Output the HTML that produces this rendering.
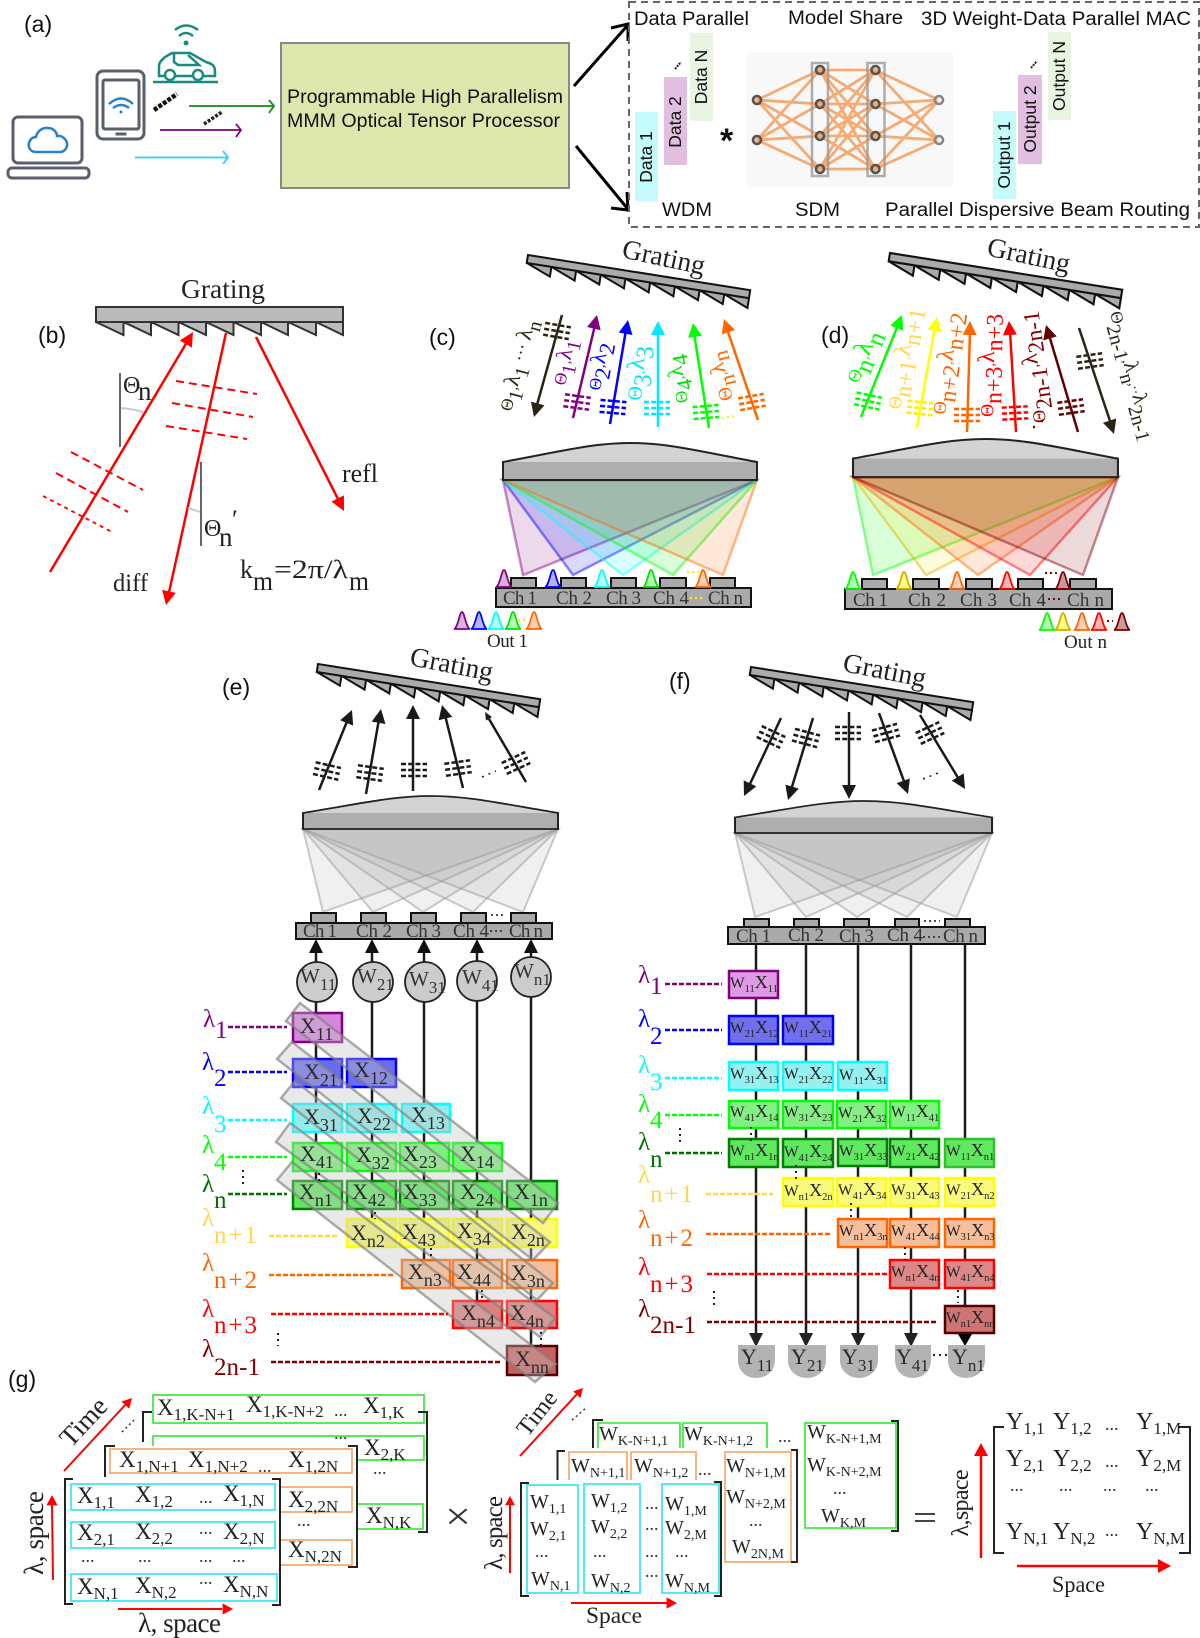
<!DOCTYPE html>
<html><head><meta charset="utf-8"><title>Optical Tensor Processor</title>
<style>
html,body{margin:0;padding:0;background:#fff}
svg{display:block}
text{font-family:"Liberation Serif","DejaVu Serif",serif;fill:#222}
.a{font-family:"Liberation Sans",sans-serif;fill:#111}
.p{font-size:23px}
.g{font-size:27px}
.gg{font-size:27.5px}
.c{font-size:19px;fill:#333}
.x{font-size:22px;fill:#2a2a2a}
.u{font-size:18px}
.wc{font-size:21px;fill:#333}
.wu{font-size:17px}
.w{font-size:15.5px;fill:#222}
.v{font-size:10.5px}
.z{font-size:18px}
.m{font-size:23px;fill:#222}
.n{font-size:17px}
.q{font-size:20px;fill:#222}
.r{font-size:14px}
.l{font-size:25px}
.y{font-size:24px;fill:#222}
.t{font-size:18px;fill:#333}
.b{fill:#c4c4c4;fill-opacity:.38;stroke:#808080;stroke-opacity:.65;stroke-width:2.5}
</style></head><body>
<svg width="1200" height="1638" viewBox="0 0 1200 1638" xmlns="http://www.w3.org/2000/svg">
<defs>
<g id="gr" stroke="#111" stroke-width="2" fill="#aaa">
<path d="M0,8 L25,18 V8Z M25,8 L50,18 V8Z M50,8 L75,18 V8Z M75,8 L100,18 V8Z M100,8 L125,18 V8Z M125,8 L150,18 V8Z M150,8 L175,18 V8Z M175,8 L200,18 V8Z M200,8 L225,18 V8Z"/>
<rect x="0" y="0" width="225" height="8"/>
</g>
<g id="lens">
<path d="M0,19 C60,8 90,0 127,0 C165,0 195,8 254,19 V37 H0Z" fill="#d3d3d3"/>
<rect x="0" y="19" width="254" height="18" fill="#aeaeae"/>
<path d="M0,37 V19 C60,8 90,0 127,0 C165,0 195,8 254,19 V37 Z" fill="none" stroke="#222" stroke-width="2"/>
</g>
<g id="h" fill="none" stroke-width="2.5" stroke-dasharray="5 2.2">
<path d="M-13,-6 H13 M-13,0 H13 M-13,6 H13"/>
</g>
<path id="ah" d="M0,0 L-7,14 L7,14Z"/>
<path id="ahb" d="M0,0 L-7,13 L7,13Z"/>
<path id="ahs" d="M0,0 L-3.5,8 L3.5,8Z"/>
<path id="pu" d="M-8,0 C-4,-1 -2.5,-17 0,-17 C2.5,-17 4,-1 8,0Z" stroke-width="1.7"/>
</defs>

<!-- (a) -->
<text class="a p" x="24" y="32">(a)</text>
<g fill="none" stroke="#5a5f6b" stroke-width="3">
<rect x="13" y="117" width="69" height="46" rx="5"/>
<rect x="8" y="168" width="81" height="10" rx="4"/>
<rect x="97" y="71" width="47" height="68" rx="6"/>
<rect x="103" y="80" width="36" height="49" rx="2"/>
<rect x="116" y="133" width="10" height="2" fill="#5a5f6b" stroke-width="1"/>
</g>
<g fill="none" stroke="#2a7fc9" stroke-width="2.5">
<path d="M36,152 C30,152 28,147 29,143 C30,139 33,137 36,137 C37,131 43,127 48,128 C54,128 57,133 57,136 C62,135 68,140 67,146 C66,150 63,152 60,152Z"/>
<path d="M109,104 Q121,93 133,104 M113,108 Q121,102 129,108"/>
</g>
<circle cx="121" cy="112" r="1.5" fill="#2a7fc9"/>
<g fill="none" stroke="#1a8a80" stroke-width="2.5">
<path d="M165,76 H159 V66 C159,62 162,60 165,57 L172,53 H190 L206,62 C213,64 215,66 215,72 V76 H204 M175,76 H192"/>
<path d="M174,54 V62 L178,65 H199 L188,55"/>
<circle cx="170" cy="75" r="5"/><circle cx="198" cy="75" r="5"/>
<path d="M153,82 H218"/>
<path d="M175,30 Q186,21 198,30 M179,36 Q186,30 193,36"/>
</g>
<circle cx="186" cy="43" r="2.5" fill="#1a8a80"/>
<path d="M154,110 L177,94" stroke="#111" stroke-width="4.5" stroke-dasharray="4 1.5" fill="none"/>
<path d="M204,124 L222,112" stroke="#222" stroke-width="3.5" stroke-dasharray="3 1.5" fill="none"/>
<g fill="none" stroke-width="1.8">
<path d="M189,106 H274 M269,100 L274,106 L269,113" stroke="#158a15"/>
<path d="M160,130 H241 M236,124 L241,130 L236,137" stroke="#800080"/>
<path d="M135,157.5 H228 M223,151 L228,157.5 L223,164" stroke="#2fd0f5"/>
</g>
<rect x="281" y="43" width="288" height="145" fill="#dce6ad" stroke="#888" stroke-width="2"/>
<text class="a" x="287" y="103" font-size="19" textLength="276" lengthAdjust="spacingAndGlyphs">Programmable High Parallelism</text>
<text class="a" x="287" y="127" font-size="19" textLength="273" lengthAdjust="spacingAndGlyphs">MMM Optical Tensor Processor</text>
<g fill="none" stroke="#000" stroke-width="3">
<path d="M574,86 L627,26 M611,28 L628,24 L628,41"/>
<path d="M576,146 L627,208 M627,192 L628,210 L611,208"/>
</g>
<rect x="629" y="2" width="570" height="225" fill="none" stroke="#666" stroke-width="2" stroke-dasharray="7 5"/>
<text class="a" x="634" y="25" font-size="19" textLength="115" lengthAdjust="spacingAndGlyphs">Data Parallel</text>
<text class="a" x="788" y="24" font-size="19" textLength="115" lengthAdjust="spacingAndGlyphs">Model Share</text>
<text class="a" x="921" y="25" font-size="19" textLength="270" lengthAdjust="spacingAndGlyphs">3D Weight-Data Parallel MAC</text>
<text class="a" x="662" y="216" font-size="19" textLength="50" lengthAdjust="spacingAndGlyphs">WDM</text>
<text class="a" x="795" y="216" font-size="19" textLength="45" lengthAdjust="spacingAndGlyphs">SDM</text>
<text class="a" x="885" y="216" font-size="19" textLength="305" lengthAdjust="spacingAndGlyphs">Parallel Dispersive Beam Routing</text>
<rect x="635" y="112" width="23" height="89" fill="#c5fbfb"/>
<rect x="664" y="77" width="23" height="88" fill="#e0bfe0"/>
<rect x="690" y="33" width="23" height="88" fill="#e8f5e0"/>
<rect x="993" y="111" width="23" height="88" fill="#c5fbfb"/>
<rect x="1018" y="75" width="24" height="89" fill="#e0bfe0"/>
<rect x="1048" y="32" width="23" height="88" fill="#e8f5e0"/>
<g font-size="17.5">
<text class="a" text-anchor="middle" transform="translate(652,157) rotate(-90)">Data 1</text>
<text class="a" text-anchor="middle" transform="translate(681,122) rotate(-90)">Data 2</text>
<text class="a" text-anchor="middle" transform="translate(707,77) rotate(-90)">Data N</text>
<text class="a" text-anchor="middle" transform="translate(1010,155) rotate(-90)">Output 1</text>
<text class="a" text-anchor="middle" transform="translate(1036,119) rotate(-90)">Output 2</text>
<text class="a" text-anchor="middle" transform="translate(1065,76) rotate(-90)">Output N</text>
</g>
<path d="M675,69 L681,62 M1031,68 L1037,61" stroke="#222" stroke-width="2" stroke-dasharray="2 1" fill="none"/>
<text class="a" x="720" y="152" font-size="34" font-weight="bold">*</text>
<rect x="747" y="52" width="206" height="135" fill="#f8f8f8"/>
<path fill="none" stroke="#f59d5c" stroke-opacity=".85" stroke-width="2.8" d="M757,100 L820,70 M757,100 L820,104 M757,100 L820,136 M757,100 L820,169 M757,140 L820,70 M757,140 L820,104 M757,140 L820,136 M757,140 L820,169 M820,70 L875,70 M820,70 L875,104 M820,70 L875,136 M820,70 L875,169 M820,104 L875,70 M820,104 L875,104 M820,104 L875,136 M820,104 L875,169 M820,136 L875,70 M820,136 L875,104 M820,136 L875,136 M820,136 L875,169 M820,169 L875,70 M820,169 L875,104 M820,169 L875,136 M820,169 L875,169 M875,70 L939,100 M875,104 L939,100 M875,136 L939,100 M875,169 L939,100 M875,70 L939,140 M875,104 L939,140 M875,136 L939,140 M875,169 L939,140"/>
<g fill="none" stroke="#999" stroke-width="2.5" stroke-opacity=".8"><rect x="812" y="63" width="16" height="113"/><rect x="867.5" y="63" width="17" height="113"/></g>
<g fill="#f8a060" fill-opacity=".6" stroke="#555" stroke-width="2.6">
<circle cx="757" cy="100" r="4"/><circle cx="757" cy="140" r="4"/>
<circle cx="820" cy="70" r="4"/><circle cx="820" cy="104" r="4"/><circle cx="820" cy="136" r="4"/><circle cx="820" cy="169" r="4"/>
<circle cx="875.5" cy="70" r="4"/><circle cx="875.5" cy="104" r="4"/><circle cx="875.5" cy="136" r="4"/><circle cx="875.5" cy="169" r="4"/>
<circle cx="939" cy="100" r="4" stroke="#888" fill="#fff"/><circle cx="939" cy="140" r="4" stroke="#888" fill="#fff"/>
</g>

<!-- (b) -->
<text class="a p" x="38" y="343">(b)</text>
<text x="181" y="298" class="g" textLength="84" lengthAdjust="spacingAndGlyphs">Grating</text>
<g stroke="#333" stroke-width="2" fill="#bbb">
<path d="M96,322 L123.5,335 V322Z M123.5,322 L151,335 V322Z M151,322 L178.5,335 V322Z M178.5,322 L206,335 V322Z M206,322 L233.5,335 V322Z M233.5,322 L261,335 V322Z M261,322 L288,335 V322Z M288,322 L316,335 V322Z M316,322 L343,335 V322Z"/>
<rect x="96" y="307" width="247" height="15"/>
</g>
<g stroke="#f00" fill="none" stroke-width="2.5">
<path d="M50,572 L190,337 M226,333 L168,597 M256,337 L340,503"/>
<path stroke-width="2" stroke-dasharray="8 5" d="M176,381 L257,394 M172,403 L253,417 M166,426 L247,439 M71,452 L143,490 M56,473 L128,512"/>
<path stroke-width="1.8" stroke-dasharray="4 4" d="M43,496 L114,533"/>
</g>
<g fill="#f00">
<use href="#ah" transform="translate(193,332) rotate(30.8)"/>
<use href="#ah" transform="translate(166,605) rotate(192.4)"/>
<use href="#ah" transform="translate(344,511) rotate(153.2)"/>
</g>
<path d="M120,373 V447 M201,462 V546" stroke="#666" stroke-width="2" fill="none"/>
<path d="M121,408 Q133,409 143,412 M188,508 Q194,510 200,512" stroke="#ccc" stroke-width="2" fill="none"/>
<text x="123" y="393" font-size="24">Θ</text><text x="138" y="400" font-size="27">n</text>
<text x="204" y="536" font-size="24">Θ</text><text x="219" y="546" font-size="27">n</text><text x="232" y="528" font-size="26">′</text>
<text x="342" y="482" font-size="26" textLength="36" lengthAdjust="spacingAndGlyphs">refl</text>
<text x="113" y="591" font-size="25" textLength="35" lengthAdjust="spacingAndGlyphs">diff</text>
<text x="240" y="578" font-size="26">k</text><text x="253" y="590" font-size="27" textLength="20" lengthAdjust="spacingAndGlyphs">m</text>
<text x="274" y="578" font-size="26" textLength="74" lengthAdjust="spacingAndGlyphs">=2π/λ</text><text x="349" y="590" font-size="27" textLength="20" lengthAdjust="spacingAndGlyphs">m</text>

<!-- (c) -->
<text class="a p" x="429" y="345">(c)</text>
<use href="#gr" transform="translate(528,255) rotate(9)"/>
<text class="gg" text-anchor="middle" transform="translate(662,266) rotate(12)">Grating</text>
<g fill="none" stroke-width="2.5">
<path d="M562,315 L537,405" stroke="#2a2510"/>
<path d="M573,418 L595,325" stroke="#800080"/>
<path d="M610,424 L626,330" stroke="#0000ff"/>
<path d="M658,427 V330" stroke="#00e8ff"/>
<path d="M709,428 L694,333" stroke="#00ff00"/>
<path d="M758,420 L727,329" stroke="#ff6600"/>
</g>
<use href="#ah" fill="#2a2510" transform="translate(534,417) rotate(195.4)"/>
<use href="#ah" fill="#800080" transform="translate(597,315) rotate(13.1)"/>
<use href="#ah" fill="#0000ff" transform="translate(628,320) rotate(9.8)"/>
<use href="#ah" fill="#00e8ff" transform="translate(658,321)"/>
<use href="#ah" fill="#00ff00" transform="translate(693,323) rotate(-8.7)"/>
<use href="#ah" fill="#ff6600" transform="translate(724,319) rotate(-18.6)"/>
<use href="#h" stroke="#2a2510" transform="translate(557,331) rotate(10)"/>
<use href="#h" stroke="#800080" transform="translate(577,402) rotate(8)"/>
<use href="#h" stroke="#0000ff" transform="translate(613,407) rotate(5)"/>
<use href="#h" stroke="#00e8ff" transform="translate(657,408)"/>
<use href="#h" stroke="#00ff00" transform="translate(706,412) rotate(-5)"/>
<use href="#h" stroke="#ff6600" transform="translate(752,402) rotate(-10)"/>
<path d="M722,418 L735,416" stroke="#ffee00" stroke-width="2" stroke-dasharray="2 3" fill="none"/>
<g font-size="17">
<text style="fill:#2a2510" transform="translate(511,412) rotate(-75)">Θ<tspan dy="7" font-size="20">1</tspan><tspan dy="-7" font-size="14">,</tspan><tspan font-size="22">λ</tspan><tspan dy="7" font-size="20">1</tspan><tspan dy="-7" font-size="18"> ··· </tspan><tspan font-size="22">λ</tspan><tspan dy="7" font-size="20">n</tspan></text>
<text style="fill:#800080" transform="translate(565,386) rotate(-78)">Θ<tspan dy="7" font-size="20">1</tspan><tspan dy="-7" font-size="14">,</tspan><tspan font-size="22">λ</tspan><tspan dy="7" font-size="20">1</tspan></text>
<text style="fill:#0000ff" transform="translate(600,391) rotate(-80)">Θ<tspan dy="7" font-size="22">2</tspan><tspan dy="-7" font-size="14">,</tspan><tspan font-size="22">λ</tspan><tspan dy="7" font-size="22">2</tspan></text>
<text style="fill:#00e8ff" font-size="20" transform="translate(641,401) rotate(-85)">Θ<tspan dy="8" font-size="25">3</tspan><tspan dy="-8" font-size="14">,</tspan><tspan font-size="25">λ</tspan><tspan dy="8" font-size="25">3</tspan></text>
<text style="fill:#00e000" transform="translate(688,402) rotate(-100)">Θ<tspan dy="7" font-size="22">4</tspan><tspan dy="-7" font-size="14">,</tspan><tspan font-size="22">λ</tspan><tspan dy="7" font-size="22">4</tspan></text>
<text style="fill:#ff6600" font-size="19" transform="translate(733,399) rotate(-105)">Θ<tspan dy="7" font-size="22">n</tspan><tspan dy="-7" font-size="14">,</tspan><tspan font-size="22">λ</tspan><tspan dy="7" font-size="22">n</tspan></text>
</g>
<g stroke-width="2.5" stroke-opacity=".45" fill-opacity=".15">
<path d="M503,480 L757,480 L523,575Z" fill="#800080" stroke="#800080"/>
<path d="M503,480 L757,480 L573,575Z" fill="#0000ff" stroke="#0000ff"/>
<path d="M503,480 L757,480 L623,575Z" fill="#00ffff" stroke="#00ffff"/>
<path d="M503,480 L757,480 L673,575Z" fill="#00ff00" stroke="#00ff00"/>
<path d="M503,480 L757,480 L723,575Z" fill="#ff6600" stroke="#ff6600"/>
</g>
<use href="#lens" transform="translate(503,443)"/>
<g fill="#aaa" stroke="#111" stroke-width="2">
<rect x="511" y="578" width="25" height="10"/><rect x="561" y="578" width="25" height="10"/><rect x="611" y="578" width="25" height="10"/><rect x="660" y="578" width="26" height="10"/><rect x="710" y="578" width="25" height="10"/>
<rect x="496" y="588" width="255" height="19"/>
</g>
<text class="c" x="503" y="604" textLength="34">Ch 1</text><text class="c" x="556" y="604" textLength="36">Ch 2</text><text class="c" x="606" y="604" textLength="35">Ch 3</text><text class="c" x="653" y="604" textLength="36">Ch 4</text><text class="c" x="708" y="604" textLength="35">Ch n</text>
<path d="M690,598 H705 M687,572 H703" stroke="#ffee00" stroke-width="2" stroke-dasharray="2 3" fill="none"/>
<g fill-opacity=".3">
<use href="#pu" fill="#800080" stroke="#800080" transform="translate(504,587)"/>
<use href="#pu" fill="#0000ff" stroke="#0000ff" transform="translate(553,587)"/>
<use href="#pu" fill="#00ffff" stroke="#00ffff" transform="translate(602,587)"/>
<use href="#pu" fill="#00ff00" stroke="#00e000" transform="translate(651,587)"/>
<use href="#pu" fill="#ff6600" stroke="#ff6600" transform="translate(703,587)"/>
<use href="#pu" fill="#800080" stroke="#800080" transform="translate(462,629)"/>
<use href="#pu" fill="#0000ff" stroke="#0000ff" transform="translate(479,629)"/>
<use href="#pu" fill="#00ffff" stroke="#00ffff" transform="translate(496,629)"/>
<use href="#pu" fill="#00ff00" stroke="#00e000" transform="translate(513,629)"/>
<use href="#pu" fill="#ff6600" stroke="#ff6600" transform="translate(534,629)"/>
</g>
<path d="M518,620 H527" stroke="#ffee00" stroke-width="2" stroke-dasharray="2 3" fill="none"/>
<text x="487" y="647" font-size="19" textLength="41">Out 1</text>

<!-- (d) -->
<text class="a p" x="821" y="343" font-size="24">(d)</text>
<use href="#gr" transform="translate(890,253) rotate(9) scale(1.045)"/>
<text class="gg" text-anchor="middle" transform="translate(1027,264) rotate(12)">Grating</text>
<g fill="none" stroke-width="2.5">
<path d="M861,417 L898,325" stroke="#00ff00"/>
<path d="M917,427 L935,327" stroke="#ffff00"/>
<path d="M967,432 L970,331" stroke="#ff6600"/>
<path d="M1016,432 L1010,331" stroke="#ff0000"/>
<path d="M1078,432 L1049,335" stroke="#600000"/>
<path d="M1079,328 L1111,424" stroke="#2a2510"/>
</g>
<use href="#ah" fill="#00ff00" transform="translate(902,315) rotate(21.9)"/>
<use href="#ah" fill="#ffff00" transform="translate(937,317) rotate(10.3)"/>
<use href="#ah" fill="#ff6600" transform="translate(970,321) rotate(1.5)"/>
<use href="#ah" fill="#ff0000" transform="translate(1009,321) rotate(-3.6)"/>
<use href="#ah" fill="#600000" transform="translate(1046,325) rotate(-16.6)"/>
<use href="#ah" fill="#2a2510" transform="translate(1114,434) rotate(161.7)"/>
<use href="#h" stroke="#00ff00" transform="translate(868,401) rotate(12)"/>
<use href="#h" stroke="#ffee00" transform="translate(920,408) rotate(6)"/>
<use href="#h" stroke="#ff6600" transform="translate(967,415)"/>
<use href="#h" stroke="#ff0000" transform="translate(1015,413) rotate(-3)"/>
<use href="#h" stroke="#600000" transform="translate(1071,407) rotate(-8)"/>
<use href="#h" stroke="#2a2510" transform="translate(1090,361) rotate(-8)"/>
<g font-size="18">
<text style="fill:#00ff00" transform="translate(858,384) rotate(-68)">Θ<tspan dy="8" font-size="26">n</tspan><tspan dy="-8" font-size="14">,</tspan><tspan font-size="26">λ</tspan><tspan dy="8" font-size="26">n</tspan></text>
<text style="fill:#ffd84a" transform="translate(900,410) rotate(-80)">Θ<tspan dy="8" font-size="24">n+1</tspan><tspan dy="-8" font-size="14">,</tspan><tspan font-size="24">λ</tspan><tspan dy="8" font-size="24">n+1</tspan></text>
<text style="fill:#ff6600" transform="translate(945,415) rotate(-82)">Θ<tspan dy="8" font-size="24">n+2</tspan><tspan dy="-8" font-size="14">,</tspan><tspan font-size="24">λ</tspan><tspan dy="8" font-size="24">n+2</tspan></text>
<text style="fill:#ff0000" transform="translate(993,417) rotate(-89)">Θ<tspan dy="8" font-size="24">n+3</tspan><tspan dy="-8" font-size="14">,</tspan><tspan font-size="24">λ</tspan><tspan dy="8" font-size="24">n+3</tspan></text>
<text style="fill:#800000" transform="translate(1046,422) rotate(-98)">Θ<tspan dy="8" font-size="23">2n-1</tspan><tspan dy="-8" font-size="14">,</tspan><tspan font-size="23">λ</tspan><tspan dy="8" font-size="23">2n-1</tspan></text>
<text style="fill:#2a2510" font-size="17" transform="translate(1110,313) rotate(75)">Θ<tspan dy="7" font-size="20">2n-1</tspan><tspan dy="-7" font-size="14">,</tspan><tspan font-size="21">λ</tspan><tspan dy="7" font-size="20">n</tspan><tspan dy="-7" font-size="14">,··</tspan><tspan font-size="21">λ</tspan><tspan dy="7" font-size="20">2n-1</tspan></text>
</g>
<path d="M1033,427 L1035,427 M1041,421 L1043,421" stroke="#800000" stroke-width="2.5" fill="none"/>
<g stroke-width="2.5" stroke-opacity=".45" fill-opacity=".15">
<path d="M853,477 L1118,477 L873,575Z" fill="#00ff00" stroke="#00ff00"/>
<path d="M853,477 L1118,477 L926,575Z" fill="#ffdc00" stroke="#e0b000"/>
<path d="M853,477 L1118,477 L978,575Z" fill="#ff6600" stroke="#ff6600"/>
<path d="M853,477 L1118,477 L1030,575Z" fill="#ff0000" stroke="#ff0000"/>
<path d="M853,477 L1118,477 L1083,575Z" fill="#800000" stroke="#800000"/>
</g>
<use href="#lens" transform="translate(853,439) scale(1.043,1.03)"/>
<g fill="#aaa" stroke="#111" stroke-width="2">
<rect x="862" y="579" width="25" height="10"/><rect x="913" y="579" width="26" height="10"/><rect x="966" y="579" width="26" height="10"/><rect x="1018" y="579" width="25" height="10"/><rect x="1070" y="579" width="26" height="10"/>
<rect x="845" y="589" width="267" height="20"/>
</g>
<text class="c" x="853" y="606" textLength="35">Ch 1</text><text class="c" x="908" y="606" textLength="38">Ch 2</text><text class="c" x="960" y="606" textLength="37">Ch 3</text><text class="c" x="1009" y="606" textLength="37">Ch 4</text><text class="c" x="1067" y="606" textLength="37">Ch n</text>
<path d="M1048,599 H1063 M1045,573 H1060" stroke="#800000" stroke-width="2" stroke-dasharray="2 3" fill="none"/>
<g>
<use href="#pu" fill="#00ff00" fill-opacity=".3" stroke="#00ff00" transform="translate(853,589)"/>
<use href="#pu" fill="#ffff00" fill-opacity=".5" stroke="#d8a800" transform="translate(904,589)"/>
<use href="#pu" fill="#ff6600" fill-opacity=".3" stroke="#ff6600" transform="translate(957,589)"/>
<use href="#pu" fill="#ff0000" fill-opacity=".3" stroke="#ff0000" transform="translate(1007,589)"/>
<use href="#pu" fill="#800000" fill-opacity=".4" stroke="#800000" transform="translate(1063,589)"/>
<use href="#pu" fill="#00ff00" fill-opacity=".3" stroke="#00ff00" transform="translate(1047,630)"/>
<use href="#pu" fill="#ffff00" fill-opacity=".5" stroke="#d8a800" transform="translate(1063,630)"/>
<use href="#pu" fill="#ff6600" fill-opacity=".3" stroke="#ff6600" transform="translate(1082,630)"/>
<use href="#pu" fill="#ff0000" fill-opacity=".3" stroke="#ff0000" transform="translate(1099,630)"/>
<use href="#pu" fill="#800000" fill-opacity=".4" stroke="#800000" transform="translate(1122,630)"/>
</g>
<path d="M1107,621 H1113" stroke="#800000" stroke-width="2" stroke-dasharray="2 3" fill="none"/>
<text x="1064" y="648" font-size="19" textLength="43">Out n</text>

<!-- (e) -->
<text class="a p" x="222" y="695">(e)</text>
<use href="#gr" transform="translate(318,664) rotate(9)"/>
<text class="gg" text-anchor="middle" transform="translate(450,673) rotate(11)">Grating</text>
<g fill="none" stroke="#1a1a1a" stroke-width="2.5">
<path d="M319,790 L348,719 M366,794 L379,719 M413,791 V715 M463,788 L445,715 M526,782 L489,719"/>
<path stroke-width="1.5" stroke-dasharray="2 5" d="M482,777 L496,771"/>
</g>
<g fill="#1a1a1a">
<use href="#ah" transform="translate(352,710) rotate(22.4)"/>
<use href="#ah" transform="translate(381,709) rotate(10)"/>
<use href="#ah" transform="translate(413,705)"/>
<use href="#ah" transform="translate(442,705) rotate(-14.2)"/>
<use href="#ahs" transform="translate(485,712) rotate(-30.4)"/>
</g>
<use href="#h" stroke="#1a1a1a" transform="translate(327,771) rotate(13)"/>
<use href="#h" stroke="#1a1a1a" transform="translate(370,773) rotate(8)"/>
<use href="#h" stroke="#1a1a1a" transform="translate(414,770)"/>
<use href="#h" stroke="#1a1a1a" transform="translate(458,768) rotate(-8)"/>
<use href="#h" stroke="#1a1a1a" transform="translate(516,763) rotate(-25)"/>
<g fill="#999" fill-opacity=".15" stroke="#999" stroke-opacity=".5" stroke-width="2">
<path d="M303,829 L558,829 L323,912Z"/><path d="M303,829 L558,829 L373,912Z"/><path d="M303,829 L558,829 L423,912Z"/><path d="M303,829 L558,829 L473,912Z"/><path d="M303,829 L558,829 L523,912Z"/>
</g>
<use href="#lens" transform="translate(303,796) scale(1.004,.892)"/>
<g fill="#aaa" stroke="#111" stroke-width="2">
<rect x="311" y="913" width="25" height="10"/><rect x="361" y="913" width="25" height="10"/><rect x="411" y="913" width="25" height="10"/><rect x="461" y="913" width="25" height="10"/><rect x="511" y="913" width="25" height="10"/>
<rect x="296" y="923" width="256" height="16"/>
</g>
<text class="c" x="303" y="937" textLength="34">Ch 1</text><text class="c" x="356" y="937" textLength="36">Ch 2</text><text class="c" x="406" y="937" textLength="35">Ch 3</text><text class="c" x="453" y="937" textLength="36">Ch 4</text><text class="c" x="509" y="937" textLength="34">Ch n</text>
<path d="M490,931 H505 M491,915 H505" stroke="#333" stroke-width="1.8" stroke-dasharray="2 3" fill="none"/>
<g fill="none" stroke="#1a1a1a" stroke-width="2.5">
<path d="M316,950 V1181 M372,950 V1220 M424,950 V1262 M477,950 V1302 M531,950 V1346"/>
</g>
<g fill="#111">
<use href="#ah" transform="translate(316,939)"/><use href="#ah" transform="translate(372,939)"/><use href="#ah" transform="translate(424,939)"/><use href="#ah" transform="translate(477,939)"/><use href="#ah" transform="translate(531,939)"/>
</g>
<g fill="#ccc" stroke="#222" stroke-width="1.8">
<circle cx="317" cy="982" r="20"/><circle cx="373" cy="982" r="20"/><circle cx="425" cy="982" r="20"/><circle cx="477" cy="981" r="20"/><circle cx="531" cy="977" r="20"/>
</g>
<text class="wc" x="300" y="983">W<tspan class="wu" dy="7">11</tspan></text>
<text class="wc" x="357" y="983">W<tspan class="wu" dy="7">21</tspan></text>
<text class="wc" x="409" y="986">W<tspan class="wu" dy="7">31</tspan></text>
<text class="wc" x="462" y="984">W<tspan class="wu" dy="7">41</tspan></text>
<text class="wc" x="514" y="978">W<tspan class="wu" dy="7">n1</tspan></text>

<g stroke-width="2.5">
<g fill="#d586dd" stroke="#800080"><rect x="293" y="1013" width="49" height="29"/></g>
<g fill="#6b6bee" stroke="#0000ff"><rect x="293" y="1059" width="49" height="28"/><rect x="347" y="1059" width="49" height="28"/></g>
<g fill="#8fefef" stroke="#00ffff"><rect x="293" y="1104" width="49" height="28"/><rect x="347" y="1104" width="49" height="28"/><rect x="402" y="1104" width="48" height="28"/></g>
<g fill="#7ef07e" stroke="#00ff00"><rect x="293" y="1143" width="49" height="28"/><rect x="347" y="1143" width="49" height="28"/><rect x="400" y="1143" width="49" height="28"/><rect x="453" y="1143" width="49" height="28"/></g>
<g fill="#5fe85f" stroke="#008000"><rect x="293" y="1181" width="49" height="28"/><rect x="347" y="1181" width="49" height="28"/><rect x="400" y="1181" width="49" height="28"/><rect x="453" y="1181" width="49" height="28"/><rect x="507" y="1181" width="50" height="28"/></g>
<g fill="#f8f87a" stroke="#ffff00"><rect x="347" y="1219" width="49" height="28"/><rect x="400" y="1219" width="49" height="28"/><rect x="453" y="1219" width="49" height="28"/><rect x="507" y="1219" width="50" height="28"/></g>
<g fill="#f4c09c" stroke="#ff6600"><rect x="402" y="1260" width="48" height="28"/><rect x="453" y="1260" width="49" height="28"/><rect x="507" y="1260" width="50" height="28"/></g>
<g fill="#dc8080" stroke="#ff0000"><rect x="453" y="1301" width="49" height="27"/><rect x="507" y="1301" width="50" height="27"/></g>
<g fill="#c86060" stroke="#500000"><rect x="507" y="1346" width="50" height="29"/></g>
</g>
<polygon class="b" points="300,1003 286,1021 543,1223 558,1203"/>
<polygon class="b" points="277,1059 292,1042 550,1242 533,1260"/>
<polygon class="b" points="281,1098 295,1081 553,1283 537,1300"/>
<polygon class="b" points="276,1142 290,1123 555,1318 540,1337"/>
<polygon class="b" points="277,1180 292,1162 556,1364 535,1382"/>
<text class="x" x="300" y="1033">X<tspan class="u" dy="7">11</tspan></text>
<text class="x" x="304" y="1079">X<tspan class="u" dy="7">21</tspan></text><text class="x" x="354" y="1077">X<tspan class="u" dy="7">12</tspan></text>
<text class="x" x="304" y="1124">X<tspan class="u" dy="7">31</tspan></text><text class="x" x="357" y="1123">X<tspan class="u" dy="7">22</tspan></text><text class="x" x="411" y="1122">X<tspan class="u" dy="7">13</tspan></text>
<text class="x" x="300" y="1161">X<tspan class="u" dy="7">41</tspan></text><text class="x" x="356" y="1162">X<tspan class="u" dy="7">32</tspan></text><text class="x" x="403" y="1161">X<tspan class="u" dy="7">23</tspan></text><text class="x" x="460" y="1161">X<tspan class="u" dy="7">14</tspan></text>
<text class="x" x="299" y="1199">X<tspan class="u" dy="7">n1</tspan></text><text class="x" x="352" y="1199">X<tspan class="u" dy="7">42</tspan></text><text class="x" x="403" y="1199">X<tspan class="u" dy="7">33</tspan></text><text class="x" x="460" y="1199">X<tspan class="u" dy="7">24</tspan></text><text class="x" x="514" y="1199">X<tspan class="u" dy="7">1n</tspan></text>
<text class="x" x="351" y="1240">X<tspan class="u" dy="7">n2</tspan></text><text class="x" x="402" y="1239">X<tspan class="u" dy="7">43</tspan></text><text class="x" x="457" y="1238">X<tspan class="u" dy="7">34</tspan></text><text class="x" x="511" y="1239">X<tspan class="u" dy="7">2n</tspan></text>
<text class="x" x="408" y="1279">X<tspan class="u" dy="7">n3</tspan></text><text class="x" x="457" y="1279">X<tspan class="u" dy="7">44</tspan></text><text class="x" x="511" y="1280">X<tspan class="u" dy="7">3n</tspan></text>
<text class="x" x="461" y="1320">X<tspan class="u" dy="7">n4</tspan></text><text class="x" x="510" y="1320">X<tspan class="u" dy="7">4n</tspan></text>
<text class="x" x="515" y="1366">X<tspan class="u" dy="7">nn</tspan></text>
<g fill="none" stroke="#222" stroke-width="2" stroke-dasharray="2 4">
<path d="M243,1170 V1184 M278,1333 V1346 M319,1173 V1181 M375,1212 V1219 M431,1248 V1260 M482,1290 V1300 M541,1332 V1346"/>
</g>
<text class="l" x="203" y="1027" style="fill:#800080">λ</text><text class="l" x="215" y="1038" style="fill:#800080">1</text>
<text class="l" x="202" y="1070" style="fill:#0000ff">λ</text><text class="l" x="214" y="1086" style="fill:#0000ff">2</text>
<text class="l" x="202" y="1114" style="fill:#00ffff">λ</text><text class="l" x="214" y="1132" style="fill:#00ffff">3</text>
<text class="l" x="202" y="1153" style="fill:#00ff00">λ</text><text class="l" x="214" y="1170" style="fill:#00ff00">4</text>
<text class="l" x="202" y="1192" style="fill:#007000">λ</text><text class="l" x="214" y="1208" style="fill:#007000">n</text>
<text class="l" x="202" y="1226" style="fill:#ffd84a">λ</text><text class="l" x="214" y="1243" style="fill:#ffd84a" textLength="43">n+1</text>
<text class="l" x="202" y="1271" style="fill:#ff6600">λ</text><text class="l" x="214" y="1288" style="fill:#ff6600" textLength="43">n+2</text>
<text class="l" x="202" y="1317" style="fill:#ff0000">λ</text><text class="l" x="214" y="1333" style="fill:#ff0000" textLength="43">n+3</text>
<text class="l" x="202" y="1357" style="fill:#800000">λ</text><text class="l" x="214" y="1375" style="fill:#800000" textLength="46">2n-1</text>
<g fill="none" stroke-width="2.5" stroke-dasharray="5 2">
<path d="M228,1027 H287" stroke="#800080"/>
<path d="M228,1072 H287" stroke="#0000ff"/>
<path d="M228,1120 H287" stroke="#00ffff"/>
<path d="M228,1157 H287" stroke="#00ff00"/>
<path d="M228,1194 H287" stroke="#007000"/>
<path d="M269,1236 H337" stroke="#ffd84a"/>
<path d="M269,1275 H393" stroke="#ff6600"/>
<path d="M271,1314 H448" stroke="#ff0000"/>
<path d="M271,1362 H500" stroke="#800000"/>
</g>

<!-- (f) -->
<text class="a p" x="669" y="689">(f)</text>
<use href="#gr" transform="translate(751,667) rotate(9)"/>
<text class="gg" text-anchor="middle" transform="translate(883,679) rotate(11)">Grating</text>
<g fill="none" stroke="#1a1a1a" stroke-width="2.5">
<path d="M781,718 L749,786 M813,718 L791,790 M849,712 V789 M879,713 L905,784 M920,715 L960,781"/>
<path stroke-width="1.5" stroke-dasharray="2 5" d="M923,779 L938,773"/>
</g>
<g fill="#1a1a1a">
<use href="#ah" transform="translate(744,796) rotate(205.4)"/>
<use href="#ah" transform="translate(788,800) rotate(197)"/>
<use href="#ah" transform="translate(849,799) rotate(180)"/>
<use href="#ah" transform="translate(908,794) rotate(160.3)"/>
<use href="#ah" transform="translate(965,789) rotate(148.7)"/>
</g>
<use href="#h" stroke="#1a1a1a" transform="translate(771,737) rotate(25)"/>
<use href="#h" stroke="#1a1a1a" transform="translate(806,738) rotate(15)"/>
<use href="#h" stroke="#1a1a1a" transform="translate(848,733)"/>
<use href="#h" stroke="#1a1a1a" transform="translate(886,733) rotate(-15)"/>
<use href="#h" stroke="#1a1a1a" transform="translate(930,733) rotate(-25)"/>
<g fill="#999" fill-opacity=".15" stroke="#999" stroke-opacity=".5" stroke-width="2">
<path d="M735,833 L992,833 L755,917Z"/><path d="M735,833 L992,833 L806,917Z"/><path d="M735,833 L992,833 L857,917Z"/><path d="M735,833 L992,833 L907,917Z"/><path d="M735,833 L992,833 L957,917Z"/>
</g>
<use href="#lens" transform="translate(735,801) scale(1.012,.865)"/>
<g fill="#aaa" stroke="#111" stroke-width="2">
<rect x="744" y="919" width="25" height="8"/><rect x="794" y="919" width="25" height="8"/><rect x="844" y="919" width="25" height="8"/><rect x="895" y="919" width="24" height="8"/><rect x="945" y="919" width="25" height="8"/>
<rect x="728" y="927" width="257" height="17"/>
</g>
<text class="c" x="736" y="942" textLength="35">Ch 1</text><text class="c" x="788" y="941" textLength="36">Ch 2</text><text class="c" x="839" y="942" textLength="35">Ch 3</text><text class="c" x="887" y="941" textLength="36">Ch 4</text><text class="c" x="943" y="942" textLength="35">Ch n</text>
<path d="M923,937 H940 M924,921 H940" stroke="#333" stroke-width="1.8" stroke-dasharray="2 3" fill="none"/>
<path d="M756,944 V1336 M806,944 V1336 M858,944 V1336 M911,944 V1336 M965,944 V1336" stroke="#1a1a1a" stroke-width="2.5" fill="none"/>
<g stroke-width="2.5">
<g fill="#de9ae4" stroke="#800080"><rect x="729" y="971" width="49" height="27"/></g>
<g fill="#7070ee" stroke="#0000ff"><rect x="729" y="1016" width="49" height="28"/><rect x="783" y="1016" width="50" height="28"/></g>
<g fill="#96f0f0" stroke="#00ffff"><rect x="729" y="1062" width="49" height="28"/><rect x="783" y="1062" width="50" height="28"/><rect x="838" y="1062" width="49" height="28"/></g>
<g fill="#84f084" stroke="#00ff00"><rect x="729" y="1101" width="49" height="27"/><rect x="783" y="1101" width="50" height="27"/><rect x="837" y="1101" width="49" height="27"/><rect x="890" y="1101" width="49" height="27"/></g>
<g fill="#60e860" stroke="#008000"><rect x="729" y="1139" width="49" height="28"/><rect x="783" y="1139" width="50" height="28"/><rect x="838" y="1139" width="49" height="27"/><rect x="890" y="1139" width="49" height="28"/></g>
<rect x="945" y="1139" width="49" height="28" fill="#60e860" stroke="#30c030"/>
<g fill="#f9f97c" stroke="#ffff00"><rect x="783" y="1178" width="50" height="28"/><rect x="837" y="1178" width="49" height="28"/><rect x="890" y="1178" width="49" height="28"/><rect x="945" y="1178" width="49" height="28"/></g>
<g fill="#f4bf9a" stroke="#ff6600"><rect x="838" y="1219" width="49" height="28"/><rect x="890" y="1219" width="49" height="28"/><rect x="945" y="1219" width="49" height="28"/></g>
<g fill="#dc8888" stroke="#ff0000"><rect x="890" y="1260" width="49" height="28"/><rect x="945" y="1260" width="49" height="28"/></g>
<g fill="#cf7474" stroke="#500000"><rect x="945" y="1306" width="49" height="27"/></g>
</g>
<text class="w" x="730" y="988">W<tspan class="v" dy="4">11</tspan><tspan class="z" dy="-4">X</tspan><tspan class="v" dy="4">11</tspan></text>
<text class="w" x="730" y="1033">W<tspan class="v" dy="4">21</tspan><tspan class="z" dy="-4">X</tspan><tspan class="v" dy="4">12</tspan></text>
<text class="w" x="784" y="1033">W<tspan class="v" dy="4">11</tspan><tspan class="z" dy="-4">X</tspan><tspan class="v" dy="4">21</tspan></text>
<text class="w" x="730" y="1079">W<tspan class="v" dy="4">31</tspan><tspan class="z" dy="-4">X</tspan><tspan class="v" dy="4">13</tspan></text>
<text class="w" x="784" y="1079">W<tspan class="v" dy="4">21</tspan><tspan class="z" dy="-4">X</tspan><tspan class="v" dy="4">22</tspan></text>
<text class="w" x="839" y="1080">W<tspan class="v" dy="4">11</tspan><tspan class="z" dy="-4">X</tspan><tspan class="v" dy="4">31</tspan></text>
<text class="w" x="730" y="1117">W<tspan class="v" dy="4">41</tspan><tspan class="z" dy="-4">X</tspan><tspan class="v" dy="4">14</tspan></text>
<text class="w" x="784" y="1117">W<tspan class="v" dy="4">31</tspan><tspan class="z" dy="-4">X</tspan><tspan class="v" dy="4">23</tspan></text>
<text class="w" x="838" y="1118">W<tspan class="v" dy="4">21</tspan><tspan class="z" dy="-4">X</tspan><tspan class="v" dy="4">32</tspan></text>
<text class="w" x="891" y="1117">W<tspan class="v" dy="4">11</tspan><tspan class="z" dy="-4">X</tspan><tspan class="v" dy="4">41</tspan></text>
<text class="w" x="730" y="1156">W<tspan class="v" dy="4">n1</tspan><tspan class="z" dy="-4">X</tspan><tspan class="v" dy="4">1n</tspan></text>
<text class="w" x="784" y="1157">W<tspan class="v" dy="4">41</tspan><tspan class="z" dy="-4">X</tspan><tspan class="v" dy="4">24</tspan></text>
<text class="w" x="839" y="1156">W<tspan class="v" dy="4">31</tspan><tspan class="z" dy="-4">X</tspan><tspan class="v" dy="4">33</tspan></text>
<text class="w" x="891" y="1156">W<tspan class="v" dy="4">21</tspan><tspan class="z" dy="-4">X</tspan><tspan class="v" dy="4">42</tspan></text>
<text class="w" x="946" y="1156">W<tspan class="v" dy="4">11</tspan><tspan class="z" dy="-4">X</tspan><tspan class="v" dy="4">n1</tspan></text>
<text class="w" x="784" y="1196">W<tspan class="v" dy="4">n1</tspan><tspan class="z" dy="-4">X</tspan><tspan class="v" dy="4">2n</tspan></text>
<text class="w" x="838" y="1195">W<tspan class="v" dy="4">41</tspan><tspan class="z" dy="-4">X</tspan><tspan class="v" dy="4">34</tspan></text>
<text class="w" x="891" y="1195">W<tspan class="v" dy="4">31</tspan><tspan class="z" dy="-4">X</tspan><tspan class="v" dy="4">43</tspan></text>
<text class="w" x="946" y="1195">W<tspan class="v" dy="4">21</tspan><tspan class="z" dy="-4">X</tspan><tspan class="v" dy="4">n2</tspan></text>
<text class="w" x="839" y="1236">W<tspan class="v" dy="4">n1</tspan><tspan class="z" dy="-4">X</tspan><tspan class="v" dy="4">3n</tspan></text>
<text class="w" x="891" y="1236">W<tspan class="v" dy="4">41</tspan><tspan class="z" dy="-4">X</tspan><tspan class="v" dy="4">44</tspan></text>
<text class="w" x="946" y="1236">W<tspan class="v" dy="4">31</tspan><tspan class="z" dy="-4">X</tspan><tspan class="v" dy="4">n3</tspan></text>
<text class="w" x="891" y="1277">W<tspan class="v" dy="4">n1</tspan><tspan class="z" dy="-4">X</tspan><tspan class="v" dy="4">4n</tspan></text>
<text class="w" x="946" y="1277">W<tspan class="v" dy="4">41</tspan><tspan class="z" dy="-4">X</tspan><tspan class="v" dy="4">n4</tspan></text>
<text class="w" x="946" y="1323">W<tspan class="v" dy="4">n1</tspan><tspan class="z" dy="-4">X</tspan><tspan class="v" dy="4">nn</tspan></text>
<g fill="#222">
<use href="#ah" transform="translate(756,1347) rotate(180)"/><use href="#ah" transform="translate(806,1347) rotate(180)"/><use href="#ah" transform="translate(858,1347) rotate(180)"/><use href="#ah" transform="translate(911,1347) rotate(180)"/>
<path d="M958,1334 H972 L965,1346Z" fill="#000"/>
</g>
<g fill="#b3b3b3">
<path d="M738,1345 H775 V1360 C775,1372 765,1378 756,1378 C747,1378 738,1372 738,1360Z"/>
<path d="M788,1345 H826 V1360 C826,1372 816,1378 807,1378 C798,1378 788,1372 788,1360Z"/>
<path d="M840,1345 H878 V1360 C878,1372 868,1378 859,1378 C850,1378 840,1372 840,1360Z"/>
<path d="M895,1345 H931 V1360 C931,1372 922,1378 913,1378 C904,1378 895,1372 895,1360Z"/>
<path d="M948,1345 H985 V1360 C985,1372 975,1378 966,1378 C957,1378 948,1372 948,1360Z"/>
</g>
<text class="x" x="741" y="1364">Y<tspan class="n" dy="7">11</tspan></text>
<text class="x" x="791" y="1364">Y<tspan class="n" dy="7">21</tspan></text>
<text class="x" x="842" y="1364">Y<tspan class="n" dy="7">31</tspan></text>
<text class="x" x="896" y="1364">Y<tspan class="n" dy="7">41</tspan></text>
<text class="x" x="952" y="1364">Y<tspan class="n" dy="7">n1</tspan></text>
<g fill="none" stroke="#222" stroke-width="2" stroke-dasharray="2 4">
<path d="M933,1355 H947 M680,1128 V1143 M714,1291 V1306 M751,1127 V1141 M796,1165 V1179 M851,1203 V1217 M905,1247 V1260 M958,1290 V1303"/>
</g>
<text class="l" x="638" y="983" style="fill:#800080">λ</text><text class="l" x="650" y="994" style="fill:#800080">1</text>
<text class="l" x="638" y="1027" style="fill:#0000ff">λ</text><text class="l" x="650" y="1044" style="fill:#0000ff">2</text>
<text class="l" x="638" y="1073" style="fill:#00ffff">λ</text><text class="l" x="650" y="1090" style="fill:#00ffff">3</text>
<text class="l" x="638" y="1112" style="fill:#00ff00">λ</text><text class="l" x="650" y="1128" style="fill:#00ff00">4</text>
<text class="l" x="638" y="1150" style="fill:#007000">λ</text><text class="l" x="650" y="1167" style="fill:#007000">n</text>
<text class="l" x="638" y="1183" style="fill:#ffd84a">λ</text><text class="l" x="650" y="1202" style="fill:#ffd84a" textLength="43">n+1</text>
<text class="l" x="638" y="1228" style="fill:#ff6600">λ</text><text class="l" x="650" y="1246" style="fill:#ff6600" textLength="43">n+2</text>
<text class="l" x="638" y="1275" style="fill:#ff0000">λ</text><text class="l" x="650" y="1292" style="fill:#ff0000" textLength="43">n+3</text>
<text class="l" x="638" y="1317" style="fill:#800000">λ</text><text class="l" x="650" y="1333" style="fill:#800000" textLength="46">2n-1</text>
<g fill="none" stroke-width="2.5" stroke-dasharray="5 2">
<path d="M665,984 H722" stroke="#800080"/>
<path d="M665,1030 H722" stroke="#0000ff"/>
<path d="M665,1078 H722" stroke="#00ffff"/>
<path d="M665,1115 H722" stroke="#00ff00"/>
<path d="M665,1153 H722" stroke="#007000"/>
<path d="M706,1194 H773" stroke="#ffd84a"/>
<path d="M706,1234 H832" stroke="#ff6600"/>
<path d="M707,1274 H887" stroke="#ff0000"/>
<path d="M707,1322 H938" stroke="#800000"/>
</g>

<!-- (g) left -->
<text class="a p" x="8" y="1387">(g)</text>
<g fill="none" stroke-width="1.6" stroke="#2ee82e">
<rect x="153" y="1395" width="271" height="28"/>
<rect x="153" y="1436" width="271" height="24"/>
<rect x="357" y="1504" width="66" height="25"/>
</g>
<path d="M152,1412 H143 V1442 M418,1412 H427 V1532 H418" fill="none" stroke="#222" stroke-width="2"/>
<text class="m" x="157" y="1415">X<tspan class="n" dy="5">1,K-N+1</tspan></text>
<text class="m" x="246" y="1412">X<tspan class="n" dy="5">1,K-N+2</tspan></text>
<text class="t" x="334" y="1416">...</text>
<text class="m" x="363" y="1413">X<tspan class="n" dy="5">1,K</tspan></text>
<text class="m" x="364" y="1455">X<tspan class="n" dy="5">2,K</tspan></text>
<text class="m" x="366" y="1523">X<tspan class="n" dy="5">N,K</tspan></text>
<text class="t" x="373" y="1474">...</text><text class="t" x="334" y="1439">...</text>
<rect x="105" y="1446" width="252" height="121" fill="#fff"/>
<g fill="none" stroke-width="1.6" stroke="#f5a060">
<rect x="110" y="1449" width="242" height="24"/>
<rect x="280" y="1487" width="72" height="25"/>
<rect x="280" y="1540" width="72" height="25"/>
</g>
<path d="M115,1446 H105 V1477 M348,1446 H357 V1567 H348" fill="none" stroke="#222" stroke-width="2"/>
<text class="m" x="119" y="1467">X<tspan class="n" dy="5">1,N+1</tspan></text>
<text class="m" x="188" y="1467">X<tspan class="n" dy="5">1,N+2</tspan></text>
<text class="t" x="258" y="1472">...</text>
<text class="m" x="288" y="1467">X<tspan class="n" dy="5">1,2N</tspan></text>
<text class="m" x="288" y="1507">X<tspan class="n" dy="5">2,2N</tspan></text>
<text class="t" x="297" y="1526">...</text>
<text class="m" x="288" y="1557">X<tspan class="n" dy="5">N,2N</tspan></text>
<rect x="65" y="1479" width="215" height="126" fill="#fff"/>
<g fill="none" stroke-width="1.8" stroke="#3fe8f8">
<rect x="71" y="1484" width="204" height="26"/>
<rect x="71" y="1522" width="204" height="26"/>
<rect x="71" y="1574" width="206" height="27"/>
</g>
<path d="M73,1479 H65 V1604 H73 M272,1479 H280 V1605 H272" fill="none" stroke="#222" stroke-width="2"/>
<text class="m" x="77" y="1503">X<tspan class="n" dy="5">1,1</tspan></text><text class="m" x="135" y="1502">X<tspan class="n" dy="5">1,2</tspan></text><text class="t" x="199" y="1503">...</text><text class="m" x="223" y="1501">X<tspan class="n" dy="5">1,N</tspan></text>
<text class="m" x="77" y="1540">X<tspan class="n" dy="5">2,1</tspan></text><text class="m" x="135" y="1539">X<tspan class="n" dy="5">2,2</tspan></text><text class="t" x="199" y="1534">...</text><text class="m" x="223" y="1539">X<tspan class="n" dy="5">2,N</tspan></text>
<text class="t" x="81" y="1562">...</text><text class="t" x="138" y="1562">...</text><text class="t" x="199" y="1562">...</text><text class="t" x="232" y="1562">...</text>
<text class="m" x="77" y="1594">X<tspan class="n" dy="5">N,1</tspan></text><text class="m" x="135" y="1593">X<tspan class="n" dy="5">N,2</tspan></text><text class="t" x="199" y="1584">...</text><text class="m" x="223" y="1592">X<tspan class="n" dy="5">N,N</tspan></text>
<path d="M64,1471 L127,1403 M53,1580 L52,1505 M118,1609 H222" stroke="#f00" stroke-width="2" fill="none"/>
<use href="#ahb" fill="#f00" transform="translate(132,1398) rotate(43) scale(.75)"/>
<use href="#ahb" fill="#f00" transform="translate(52,1495) scale(.8)"/>
<use href="#ahb" fill="#f00" transform="translate(233,1609) rotate(90) scale(.8)"/>
<text class="g" text-anchor="middle" transform="translate(90,1428) rotate(-47)">Time</text>
<path d="M122,1432 L136,1418" stroke="#333" stroke-width="1.5" stroke-dasharray="2 3" fill="none"/>
<text class="g" text-anchor="middle" transform="translate(43,1533) rotate(-90)" textLength="84">λ, space</text>
<text class="g" x="138" y="1632" textLength="83">λ, space</text>
<text x="445" y="1529" font-size="38" style="fill:#333" textLength="26" lengthAdjust="spacingAndGlyphs">×</text>

<!-- (g) middle -->
<path d="M520,1456 L578,1393 M510,1573 V1503 M571,1603 H670" stroke="#f00" stroke-width="2" fill="none"/>
<use href="#ahb" fill="#f00" transform="translate(583,1388) rotate(42.8) scale(.7)"/>
<use href="#ahb" fill="#f00" transform="translate(510,1496) scale(.7)"/>
<use href="#ahb" fill="#f00" transform="translate(677,1603) rotate(90) scale(.8)"/>
<text text-anchor="middle" transform="translate(543,1418) rotate(-52)" font-size="24">Time</text>
<path d="M572,1420 L586,1408" stroke="#333" stroke-width="1.5" stroke-dasharray="2 3" fill="none"/>
<text text-anchor="middle" transform="translate(502,1533) rotate(-90)" font-size="25" textLength="74">λ, space</text>
<text x="586" y="1623" font-size="23.5" textLength="56" lengthAdjust="spacingAndGlyphs">Space</text>
<g fill="none" stroke="#2ee82e" stroke-width="1.6">
<path d="M598,1448 V1423 H680 V1448 M683,1448 V1423 H767 V1448"/>
<rect x="805" y="1423" width="91" height="105"/>
</g>
<path d="M603,1420 H593 V1448 M891,1421 H898 V1531 H891" fill="none" stroke="#222" stroke-width="2"/>
<text class="q" x="599" y="1440">W<tspan class="r" dy="5">K-N+1,1</tspan></text>
<text class="q" x="684" y="1440">W<tspan class="r" dy="5">K-N+1,2</tspan></text>
<text class="t" x="778" y="1442">...</text>
<text class="q" x="807" y="1438">W<tspan class="r" dy="5">K-N+1,M</tspan></text>
<text class="q" x="807" y="1471">W<tspan class="r" dy="5">K-N+2,M</tspan></text>
<text class="t" x="833" y="1494">...</text>
<text class="q" x="821" y="1522">W<tspan class="r" dy="5">K,M</tspan></text>
<rect x="557" y="1450" width="168" height="33" fill="#fff"/>
<g fill="none" stroke="#f5a060" stroke-width="1.6">
<path d="M569,1480 V1452 H627 V1480 M631,1480 V1452 H696 V1480"/>
<rect x="725" y="1452" width="66" height="110"/>
</g>
<path d="M565,1451 H557.5 V1480 M791,1450 H797 V1562 H791" fill="none" stroke="#222" stroke-width="2"/>
<text class="q" x="571" y="1472">W<tspan class="r" dy="5">N+1,1</tspan></text>
<text class="q" x="634" y="1472">W<tspan class="r" dy="5">N+1,2</tspan></text>
<text class="t" x="698" y="1475">...</text>
<text class="q" x="726" y="1472">W<tspan class="r" dy="5">N+1,M</tspan></text>
<text class="q" x="726" y="1503">W<tspan class="r" dy="5">N+2,M</tspan></text>
<text class="t" x="749" y="1526">...</text>
<text class="q" x="732" y="1553">W<tspan class="r" dy="5">2N,M</tspan></text>
<g fill="none" stroke="#3fe8f8" stroke-width="1.8">
<rect x="527" y="1485" width="51" height="108"/>
<rect x="584" y="1484" width="56" height="109"/>
<rect x="662" y="1484" width="57" height="109"/>
</g>
<path d="M529,1483 H521 V1596 H529 M714,1482 H721 V1596 H714" fill="none" stroke="#222" stroke-width="2"/>
<text class="q" x="530" y="1508">W<tspan class="r" dy="5">1,1</tspan></text><text class="q" x="530" y="1535">W<tspan class="r" dy="5">2,1</tspan></text><text class="t" x="535" y="1557">...</text><text class="q" x="531" y="1585">W<tspan class="r" dy="5">N,1</tspan></text>
<text class="q" x="591" y="1507">W<tspan class="r" dy="5">1,2</tspan></text><text class="q" x="591" y="1533">W<tspan class="r" dy="5">2,2</tspan></text><text class="t" x="593" y="1557">...</text><text class="q" x="591" y="1587">W<tspan class="r" dy="5">N,2</tspan></text>
<text class="t" x="645" y="1509">...</text><text class="t" x="645" y="1530">...</text><text class="t" x="645" y="1557">...</text><text class="t" x="645" y="1577">...</text>
<text class="q" x="665" y="1510">W<tspan class="r" dy="5">1,M</tspan></text><text class="q" x="665" y="1534">W<tspan class="r" dy="5">2,M</tspan></text><text class="t" x="675" y="1557">...</text><text class="q" x="665" y="1587">W<tspan class="r" dy="5">N,M</tspan></text>
<path d="M915,1514 H935 M915,1521 H935" stroke="#444" stroke-width="2" fill="none"/>

<!-- (g) right -->
<path d="M1004,1427 H994 V1553 H1004 M1179,1427 H1190 V1553 H1179" fill="none" stroke="#222" stroke-width="2"/>
<path d="M981,1558 V1455 M1017,1566 H1160" stroke="#f00" stroke-width="2.5" fill="none"/>
<use href="#ahb" fill="#f00" transform="translate(981,1443)"/>
<use href="#ahb" fill="#f00" transform="translate(1171,1566) rotate(90)"/>
<text text-anchor="middle" transform="translate(968,1503) rotate(-90)" font-size="24" textLength="67">λ,space</text>
<text x="1052" y="1592" font-size="23.5" textLength="53" lengthAdjust="spacingAndGlyphs">Space</text>
<text class="y" x="1006" y="1429">Y<tspan class="n" dy="5">1,1</tspan></text><text class="y" x="1053" y="1429">Y<tspan class="n" dy="5">1,2</tspan></text><text class="t" x="1105" y="1430">...</text><text class="y" x="1136" y="1429">Y<tspan class="n" dy="5">1,M</tspan></text>
<text class="y" x="1006" y="1466">Y<tspan class="n" dy="5">2,1</tspan></text><text class="y" x="1053" y="1466">Y<tspan class="n" dy="5">2,2</tspan></text><text class="t" x="1105" y="1467">...</text><text class="y" x="1136" y="1466">Y<tspan class="n" dy="5">2,M</tspan></text>
<text class="t" x="1010" y="1491">...</text><text class="t" x="1059" y="1491">...</text><text class="t" x="1103" y="1491">...</text><text class="t" x="1145" y="1491">...</text>
<text class="y" x="1006" y="1539">Y<tspan class="n" dy="5">N,1</tspan></text><text class="y" x="1053" y="1539">Y<tspan class="n" dy="5">N,2</tspan></text><text class="t" x="1105" y="1536">...</text><text class="y" x="1136" y="1539">Y<tspan class="n" dy="5">N,M</tspan></text>
</svg>
</body></html>
